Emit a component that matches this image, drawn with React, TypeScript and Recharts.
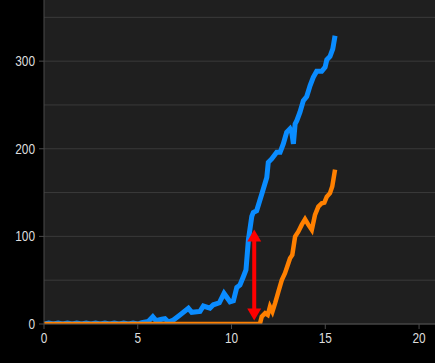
import React from 'react';
import { LineChart, Line, XAxis, YAxis, CartesianGrid, ReferenceLine } from 'recharts';

// blue series (x, value)
const blueX = [0, 0.25, 0.5, 0.75, 1, 1.25, 1.5, 1.75, 2, 2.25, 2.5, 2.75, 3, 3.25, 3.5, 3.75, 4, 4.25, 4.5, 4.75, 5,
  5.21, 5.56, 5.8, 5.97, 6.28, 6.45, 6.63, 6.9, 7.25, 7.7, 7.88, 8.32, 8.5, 8.85, 9.03, 9.35, 9.6, 9.92, 10.1, 10.28,
  10.45, 10.63, 10.77, 10.9, 11.08, 11.16, 11.34, 11.61, 11.88, 11.96, 12.14, 12.41, 12.59, 12.76, 12.94, 13.12,
  13.21, 13.3, 13.39, 13.48, 13.65, 13.83, 14.01, 14.19, 14.36, 14.54, 14.81, 14.99, 15.08, 15.25, 15.4, 15.52];
const blueY = [0, 1.2, 0, 1.2, 0, 1.2, 0, 1.2, 0, 1.2, 0, 1.2, 0, 1.2, 0, 1.2, 0, 1.2, 0, 1.2, 0,
  1.5, 3, 8.3, 3.8, 5.4, 6, 2.3, 4.6, 10.3, 17.9, 13.3, 14.4, 20.5, 18.2, 21.9, 24.2, 34.9, 25.4, 26.5, 41.8,
  44.5, 54, 61.6, 96, 122.9, 127.3, 129.2, 148.2, 167.1, 184.5, 188.4, 196, 196, 205.6, 218.9, 222.8,
  218.9, 205.6, 228.3, 232.1, 241.7, 255, 259.6, 272.2, 281.6, 288.5, 288.5, 293.1, 301.5, 305.3, 314.1, 329];

// orange series
const orangeX = [0, 11.45, 11.52, 11.61, 11.79, 11.93, 12.05, 12.18, 12.32, 12.5, 12.68, 12.85, 13.03, 13.12, 13.24,
  13.39, 13.56, 13.74, 13.92, 14.1, 14.28, 14.45, 14.63, 14.81, 14.95, 15.08, 15.25, 15.37, 15.52];
const orangeY = [0, 0, 0.8, 8.4, 12.3, 10.3, 19.8, 14.1, 23.6, 36.9, 50.2, 57.9, 69.3, 75, 78.8,
  99.7, 105.4, 113.1, 119.6, 113.1, 107.4, 124.5, 134, 137.8, 138.5, 145.4, 149.3, 156.9, 176.3];

// red gap arrow
const arrowX = 11.21;
const arrowFrom = 4;
const arrowTo = 108;

const xTicks = [0, 5, 10, 15, 20];
const yTicks = [0, 100, 200, 300];
const gridValues = [0, 50, 100, 150, 200, 250, 300, 350];

const blueData = blueX.map((x, i) => ({ x, v: blueY[i] }));
const orangeData = orangeX.map((x, i) => ({ x, v: orangeY[i] }));

const Arrow = (props: any) => {
  const { x1, y1, x2, y2 } = props;
  const top = Math.min(y1, y2);
  const bot = Math.max(y1, y2);
  const hw = 7;
  const hl = 12;
  return (
    <g>
      <line x1={x1} x2={x2} y1={top + hl - 1} y2={bot - hl + 1} stroke="#ff0000" strokeWidth={4} />
      <polygon points={`${x1},${top} ${x1 - hw},${top + hl} ${x1 + hw},${top + hl}`} fill="#ff0000" />
      <polygon points={`${x1},${bot} ${x1 - hw},${bot - hl} ${x1 + hw},${bot - hl}`} fill="#ff0000" />
    </g>
  );
};

// narrow-looking tick labels
const NarrowTick = (props: any) => {
  const { x, y, payload, textAnchor, vertical } = props;
  const label = String(payload.value);
  return (
    <text
      x={x}
      y={y}
      dy={vertical ? '0.36em' : '0.71em'}
      textAnchor={textAnchor}
      fill="#dddddd"
      fontSize={14}
      fontFamily='"Liberation Sans", Arial, sans-serif'
      textLength={label.length * 6.6}
      lengthAdjust="spacingAndGlyphs"
    >
      {label}
    </text>
  );
};

export default function App() {
  return (
    <div style={{ position: 'absolute', left: 0, top: 0, width: 435, height: 363, background: '#000' }}>
      <LineChart width={435} height={363} margin={{ top: 0, right: 0, bottom: 0, left: 0 }}>
        <CartesianGrid vertical={false} horizontalValues={gridValues} stroke="#3a3a3a" fill="#1f1f1f" fillOpacity={1} />
        <XAxis
          dataKey="x"
          type="number"
          domain={[0, 20.85]}
          ticks={xTicks}
          allowDataOverflow
          height={39}
          tick={<NarrowTick vertical={false} />}
          tickSize={5}
          tickMargin={4}
          stroke="#4a4a4a"
        />
        <YAxis
          type="number"
          domain={[0, 369.8]}
          ticks={yTicks}
          allowDataOverflow
          width={44}
          tick={<NarrowTick vertical />}
          tickSize={5}
          tickMargin={4}
          stroke="#4a4a4a"
        />
        <Line data={blueData} dataKey="v" stroke="#0a8cff" strokeWidth={5} dot={false} isAnimationActive={false} />
        <Line data={orangeData} dataKey="v" stroke="#ff8000" strokeWidth={4.5} dot={false} isAnimationActive={false} />
        <ReferenceLine
          segment={[{ x: arrowX, y: arrowFrom }, { x: arrowX, y: arrowTo }]}
          shape={Arrow}
        />
      </LineChart>
    </div>
  );
}
